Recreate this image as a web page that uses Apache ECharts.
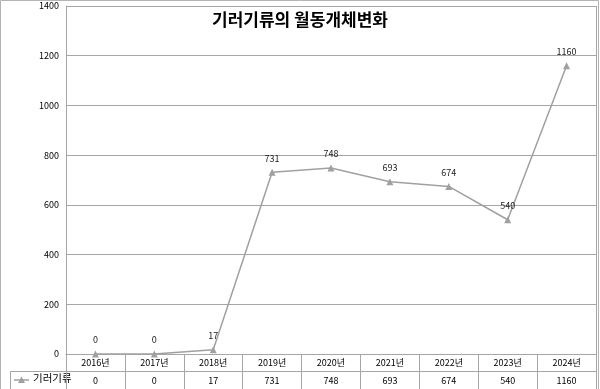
<!DOCTYPE html>
<html><head><meta charset="utf-8">
<script src="https://cdn.jsdelivr.net/npm/echarts@6/dist/echarts.min.js"></script>
<style>html,body{margin:0;padding:0;background:#fff}#c{width:600px;height:389px}</style>
</head><body><div id="c"></div>
<script>
const titleText = '기러기류의 월동개체변화';
const seriesName = '기러기류';
const years = ['2016년','2017년','2018년','2019년','2020년','2021년','2022년','2023년','2024년'];
const values = [0, 0, 17, 731, 748, 693, 674, 540, 1160];
const yMin = 0, yMax = 1400, yStep = 200;

const FONT = '"Noto Sans CJK KR", "Noto Sans", sans-serif';
const GRID = '#a6a6a6';
const chart = echarts.init(document.getElementById('c'), null, {renderer:'canvas'});
chart.setOption({
  animation:false,
  backgroundColor:'#fff',
  title:{text:titleText,left:'center',top:11,padding:0,
    textStyle:{fontFamily:FONT,fontSize:17,fontWeight:'bold',color:'#000'}},
  grid:{left:66,right:4,top:6,bottom:35,containLabel:false},
  xAxis:[
    {type:'category',data:years,position:'bottom',boundaryGap:true,
     axisLine:{show:true,lineStyle:{color:GRID,width:1}},
     axisTick:{show:true,interval:0,length:17,lineStyle:{color:GRID}},
     axisLabel:{interval:0,margin:4,fontFamily:FONT,fontSize:9,color:'#000'},
     splitLine:{show:false}},
    {type:'category',data:values.map(String),position:'bottom',offset:17,boundaryGap:true,
     axisLine:{show:true,lineStyle:{color:GRID,width:1}},
     axisTick:{show:true,interval:0,length:18,lineStyle:{color:GRID}},
     axisLabel:{interval:0,margin:5,fontFamily:FONT,fontSize:9,color:'#000'},
     splitLine:{show:false}}
  ],
  yAxis:{type:'value',min:yMin,max:yMax,interval:yStep,
    axisLine:{show:true,lineStyle:{color:GRID}},axisTick:{show:false},
    axisLabel:{margin:7,fontFamily:FONT,fontSize:9,color:'#000',formatter:v=>String(v)},
    splitLine:{lineStyle:{color:GRID,width:1}}},
  series:[{type:'line',name:seriesName,data:values,xAxisIndex:0,
    symbol:'triangle',symbolSize:7,
    lineStyle:{color:'#a0a0a0',width:1.5},
    itemStyle:{color:'#a0a0a0'},
    label:{show:true,position:'top',distance:6,fontFamily:FONT,fontSize:9,color:'#222'}}],
  graphic:[
    {type:'rect',shape:{x:0.5,y:0.5,width:598,height:400},style:{fill:null,stroke:'#b4b4b4',lineWidth:1},silent:true},
    {type:'line',shape:{x1:596.5,y1:6,x2:596.5,y2:389},style:{stroke:GRID,lineWidth:1}},
    {type:'line',shape:{x1:10.5,y1:371.5,x2:66,y2:371.5},style:{stroke:GRID,lineWidth:1}},
    {type:'line',shape:{x1:10.5,y1:371.5,x2:10.5,y2:389},style:{stroke:GRID,lineWidth:1}},
    {type:'line',shape:{x1:14,y1:380,x2:29,y2:380},style:{stroke:'#a0a0a0',lineWidth:1.5}},
    {type:'polygon',shape:{points:[[21.5,376.5],[25,383],[18,383]]},style:{fill:'#a0a0a0'}},
    {type:'text',left:33,top:373,style:{text:seriesName,fontFamily:FONT,fontSize:10.5,fill:'#000'}}
  ]
});
</script></body></html>
